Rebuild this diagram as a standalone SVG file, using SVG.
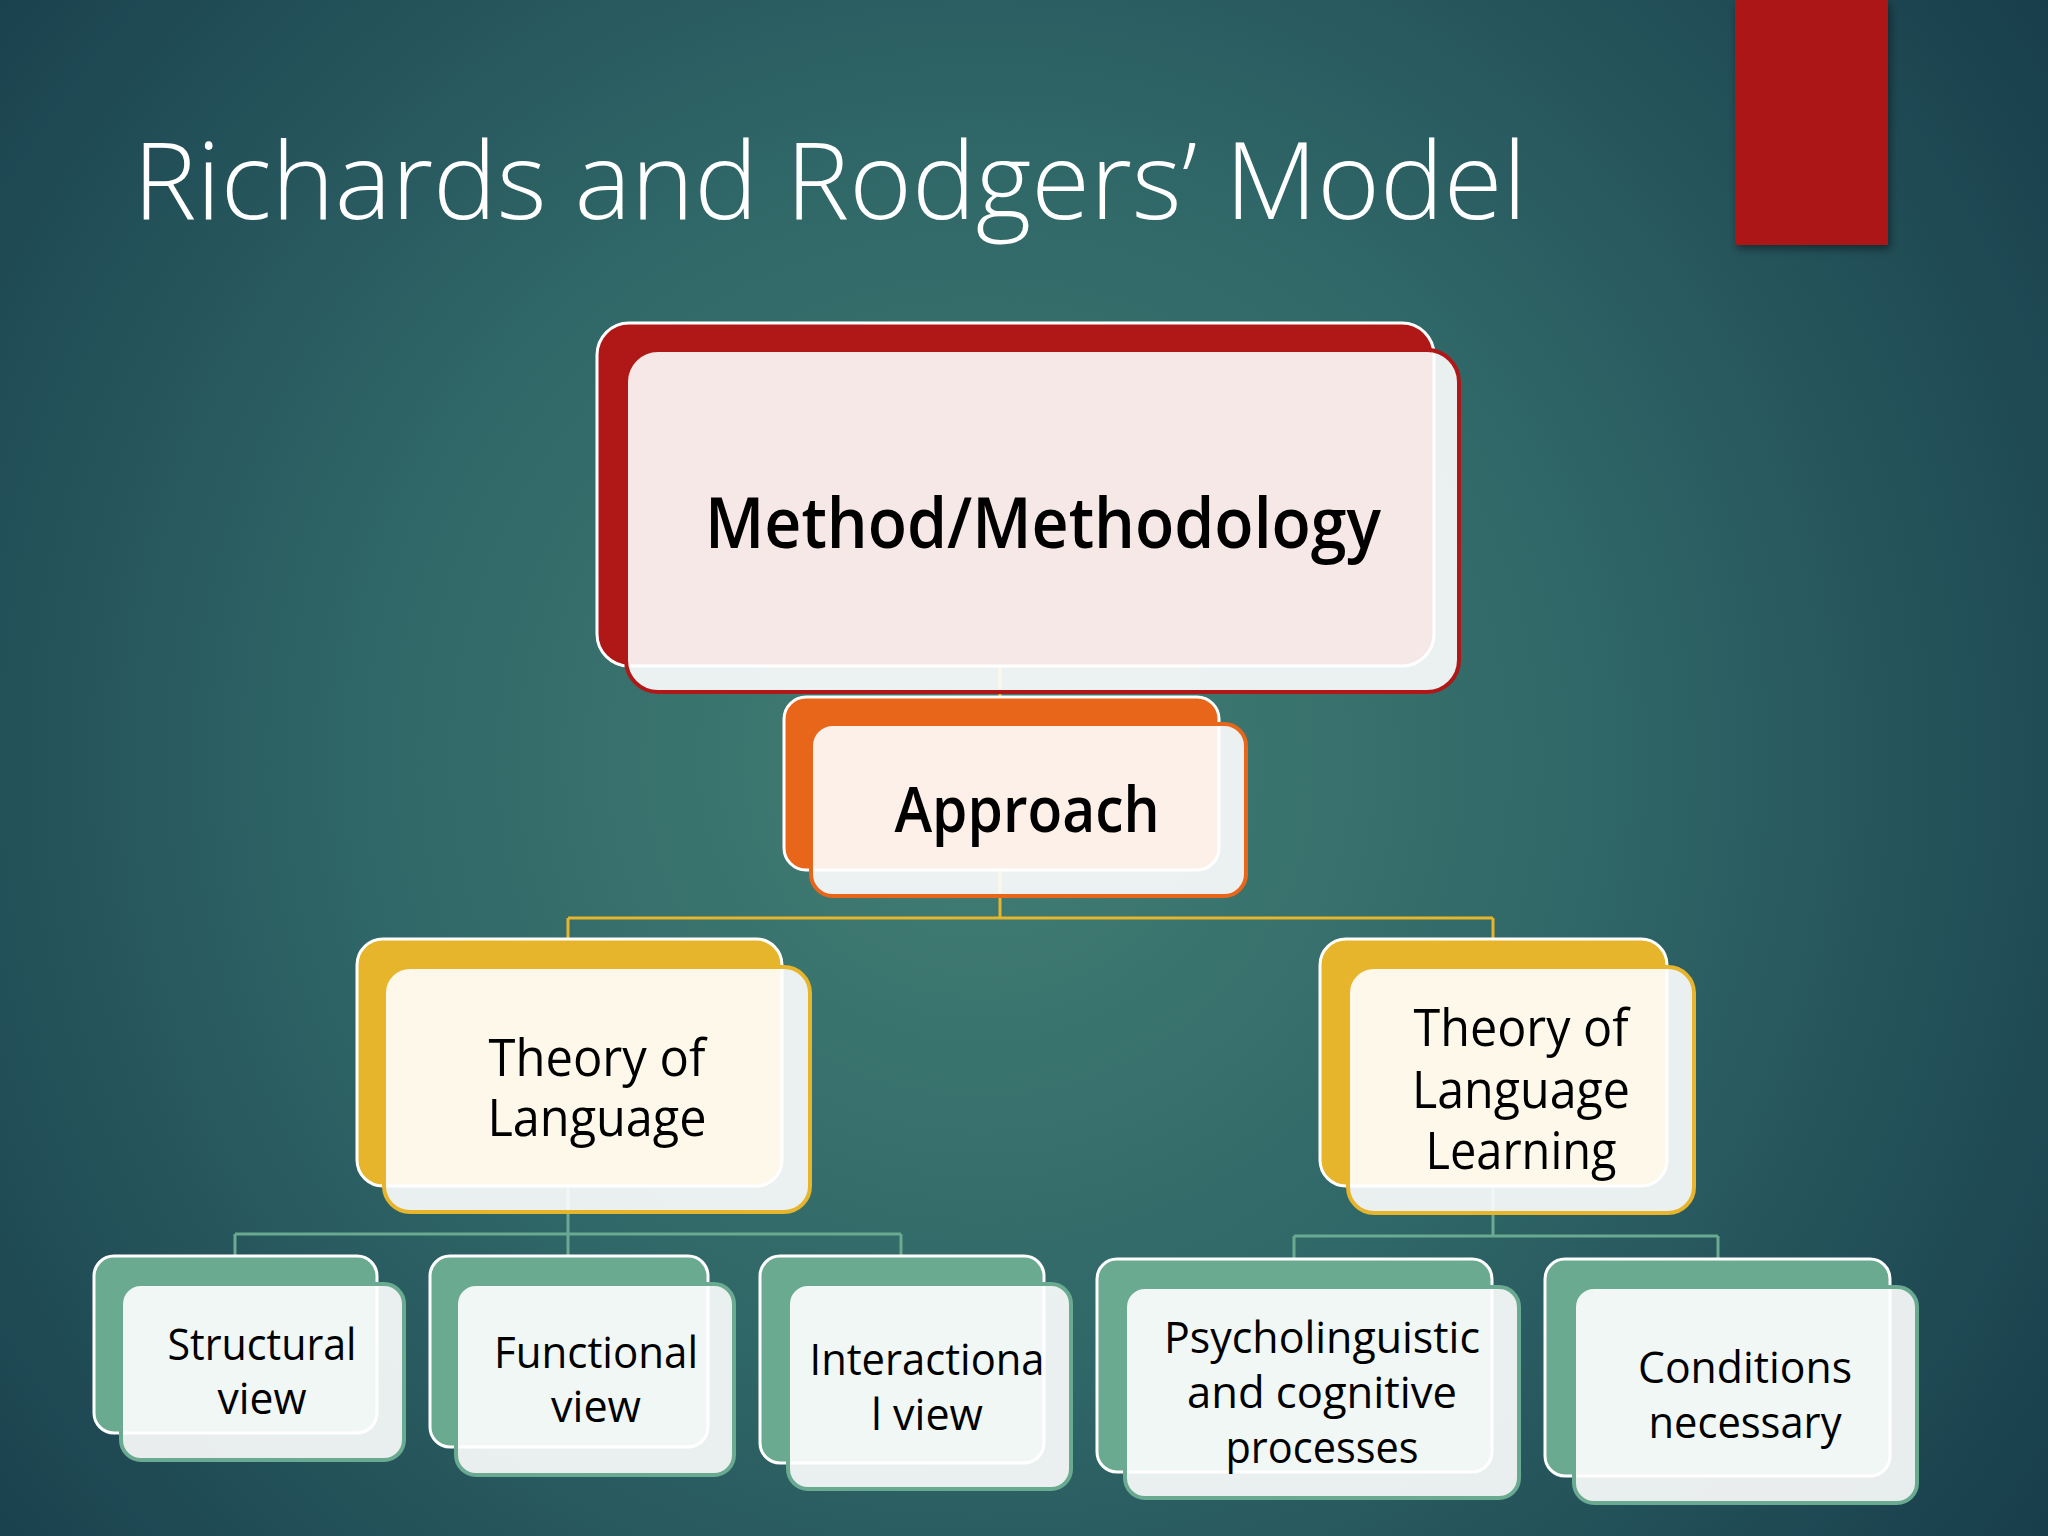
<svg xmlns="http://www.w3.org/2000/svg" width="2048" height="1536" viewBox="0 0 2048 1536">
  <defs>
    <radialGradient id="bg" cx="980" cy="760" r="1400" gradientUnits="userSpaceOnUse">
      <stop offset="0" stop-color="#437f74"/>
      <stop offset="0.45" stop-color="#2f6667"/>
      <stop offset="1" stop-color="#153848"/>
    </radialGradient>
    <filter id="shadow" x="-20%" y="-20%" width="140%" height="140%">
      <feDropShadow dx="2" dy="4" stdDeviation="4" flood-color="#000" flood-opacity="0.45"/>
    </filter>
    <style>
      .back { stroke: #ffffff; stroke-width: 3; }
      .front { fill: #ffffff; fill-opacity: 0.9; stroke-width: 4; }
      .red .back { fill: #b01818; }
      .red .front { stroke: #b01818; }
      .orange .back { fill: #e8661a; }
      .orange .front { stroke: #e8661a; }
      .yellow .back { fill: #e6b52c; }
      .yellow .front { stroke: #e6b52c; }
      .green .back { fill: #6aaa90; }
      .green .front { stroke: #6aaa90; }
      .lbl { font-family: "Open Sans", "Noto Sans", "Liberation Sans", sans-serif; fill: #000; text-anchor: middle; }
      .conn-y { stroke: #e6b52c; stroke-width: 3; fill: none; }
      .conn-g { stroke: #6aaa90; stroke-width: 3; fill: none; }
    </style>
  </defs>

  <rect x="0" y="0" width="2048" height="1536" fill="url(#bg)"/>
  <rect x="1735" y="0" width="153" height="245" fill="#ad1616" filter="url(#shadow)"/>

  <text x="133" y="219" font-family="'Open Sans', 'Noto Sans', 'Liberation Sans', sans-serif" font-weight="300" font-size="107" fill="#ffffff">Richards and Rodgers’ Model</text>

  <g id="connectors">
    <path class="conn-y" d="M1000 640 V760"/>
    <path class="conn-y" d="M1000 860 V918 M568 918 H1493 M568 918 V960 M1493 918 V960"/>
    <path class="conn-g" d="M568 1180 V1234 M235 1234 H901 M235 1234 V1270 M568 1234 V1270 M901 1234 V1270"/>
    <path class="conn-g" d="M1493 1180 V1236 M1294 1236 H1718 M1294 1236 V1270 M1718 1236 V1270"/>
  </g>

  <g id="node-method" class="red">
    <rect class="back" x="597" y="323" width="837" height="343" rx="32"/>
    <rect class="front" x="626" y="350" width="833" height="342" rx="32"/>
    <text class="lbl" x="1043" y="548" font-size="70" font-weight="600" textLength="676" lengthAdjust="spacingAndGlyphs">Method/Methodology</text>
  </g>

  <g id="node-approach" class="orange">
    <rect class="back" x="784" y="697" width="435" height="173" rx="22"/>
    <rect class="front" x="811" y="724" width="435" height="172" rx="22"/>
    <text class="lbl" x="1027" y="832" font-size="64" font-weight="600" textLength="265" lengthAdjust="spacingAndGlyphs">Approach</text>
  </g>

  <g id="node-theory-language" class="yellow">
    <rect class="back" x="357" y="939" width="425" height="247" rx="26"/>
    <rect class="front" x="384" y="967" width="426" height="245" rx="26"/>
    <text class="lbl" x="597" y="1076" font-size="51" textLength="217" lengthAdjust="spacingAndGlyphs">Theory of</text>
    <text class="lbl" x="597" y="1136" font-size="51" textLength="219" lengthAdjust="spacingAndGlyphs">Language</text>
  </g>

  <g id="node-theory-learning" class="yellow">
    <rect class="back" x="1320" y="939" width="347" height="247" rx="26"/>
    <rect class="front" x="1348" y="967" width="346" height="246" rx="26"/>
    <text class="lbl" x="1521" y="1046" font-size="51" textLength="215" lengthAdjust="spacingAndGlyphs">Theory of</text>
    <text class="lbl" x="1521" y="1108" font-size="51" textLength="218" lengthAdjust="spacingAndGlyphs">Language</text>
    <text class="lbl" x="1521" y="1169" font-size="51" textLength="191" lengthAdjust="spacingAndGlyphs">Learning</text>
  </g>

  <g id="node-structural" class="green">
    <rect class="back" x="94" y="1256" width="283" height="177" rx="20"/>
    <rect class="front" x="121" y="1284" width="283" height="176" rx="20"/>
    <text class="lbl" x="262" y="1360" font-size="44" textLength="189" lengthAdjust="spacingAndGlyphs">Structural</text>
    <text class="lbl" x="262" y="1414" font-size="44" textLength="89" lengthAdjust="spacingAndGlyphs">view</text>
  </g>

  <g id="node-functional" class="green">
    <rect class="back" x="430" y="1256" width="278" height="191" rx="20"/>
    <rect class="front" x="456" y="1284" width="278" height="191" rx="20"/>
    <text class="lbl" x="596" y="1368" font-size="44" textLength="204" lengthAdjust="spacingAndGlyphs">Functional</text>
    <text class="lbl" x="596" y="1422" font-size="44" textLength="90" lengthAdjust="spacingAndGlyphs">view</text>
  </g>

  <g id="node-interactional" class="green">
    <rect class="back" x="760" y="1256" width="284" height="207" rx="20"/>
    <rect class="front" x="788" y="1284" width="283" height="205" rx="20"/>
    <text class="lbl" x="927" y="1375" font-size="44" textLength="235" lengthAdjust="spacingAndGlyphs">Interactiona</text>
    <text class="lbl" x="927" y="1430" font-size="44" textLength="112" lengthAdjust="spacingAndGlyphs">l view</text>
  </g>

  <g id="node-psycholinguistic" class="green">
    <rect class="back" x="1097" y="1259" width="395" height="213" rx="20"/>
    <rect class="front" x="1125" y="1287" width="394" height="211" rx="20"/>
    <text class="lbl" x="1322" y="1353" font-size="44" textLength="316" lengthAdjust="spacingAndGlyphs">Psycholinguistic</text>
    <text class="lbl" x="1322" y="1408" font-size="44" textLength="270" lengthAdjust="spacingAndGlyphs">and cognitive</text>
    <text class="lbl" x="1322" y="1463" font-size="44" textLength="193" lengthAdjust="spacingAndGlyphs">processes</text>
  </g>

  <g id="node-conditions" class="green">
    <rect class="back" x="1545" y="1259" width="345" height="217" rx="20"/>
    <rect class="front" x="1574" y="1287" width="343" height="216" rx="20"/>
    <text class="lbl" x="1745" y="1383" font-size="44" textLength="214" lengthAdjust="spacingAndGlyphs">Conditions</text>
    <text class="lbl" x="1745" y="1438" font-size="44" textLength="193" lengthAdjust="spacingAndGlyphs">necessary</text>
  </g>
</svg>
